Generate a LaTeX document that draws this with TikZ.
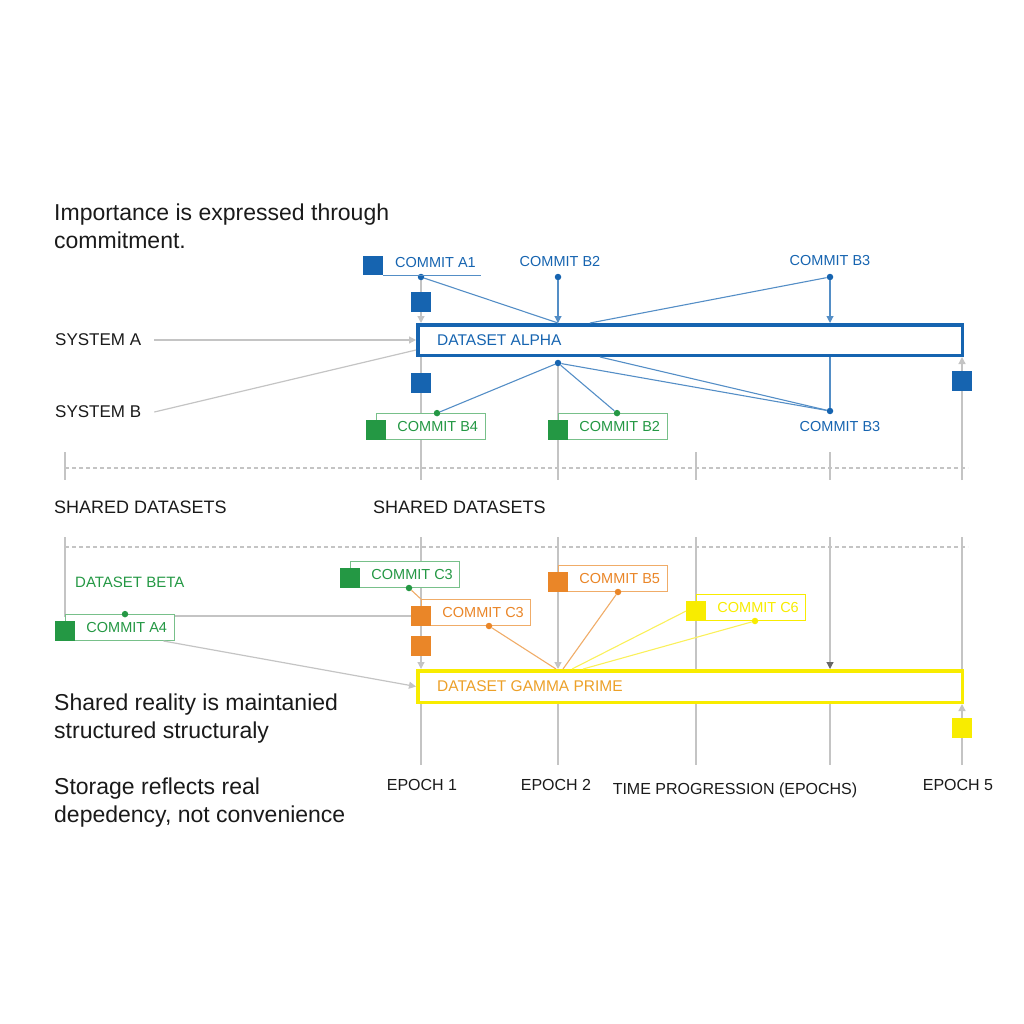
\documentclass[tikz,border=0pt]{standalone}
\usepackage{fontspec}
\setmainfont{Liberation Sans}
\usetikzlibrary{arrows.meta,positioning,calc,backgrounds}
\definecolor{cblue}{RGB}{22,100,176}
\definecolor{lblue}{RGB}{84,142,198}
\definecolor{cgreen}{RGB}{36,152,68}
\definecolor{lgreen}{RGB}{120,192,138}
\definecolor{corange}{RGB}{234,134,40}
\definecolor{lorange}{RGB}{240,172,104}
\definecolor{cyellow}{RGB}{248,236,0}
\definecolor{lyellow}{RGB}{250,240,90}
\definecolor{gtext}{RGB}{236,160,40}
\definecolor{cgray}{RGB}{196,196,196}
\definecolor{ink}{RGB}{26,26,26}
\tikzset{
  sq/.style={rectangle, minimum size=19.5pt, inner sep=0pt},
  dot/.style={circle, minimum size=6.5pt, inner sep=0pt},
  cbox/.style={
    draw,
    line width=0.9pt,
    rectangle,
    fill=white,
    anchor=south west,
    inner xsep=7pt,
    inner ysep=0pt,
    minimum height=26pt,
    font=\fontsize{14.5}{16}\selectfont,
    execute at begin node={\hspace*{14pt}},
  },
  clbl/.style={inner sep=0pt, font=\fontsize{14.5}{16}\selectfont},
  dset/.style={draw, line width=3.5pt, rectangle, minimum width=544.5pt, inner sep=0pt},
  dlbl/.style={inner sep=0pt, anchor=west, font=\fontsize{15.5}{18}\selectfont},
  note/.style={inner sep=0pt, align=left, anchor=north west, text=ink, font=\fontsize{23}{28}\selectfont},
  caps/.style={inner sep=0pt, anchor=west, text=ink, font=\fontsize{17}{20}\selectfont},
  eplbl/.style={inner sep=0pt, text=ink, font=\fontsize{16}{19}\selectfont},
  eline/.style={cgray, line width=1.2pt},
  garr/.style={eline, -{Triangle[length=7pt, width=7pt]}},
  bline/.style={lblue, line width=1.1pt},
  barr/.style={bline, -{Triangle[length=7pt, width=7pt]}},
  oline/.style={lorange, line width=1.1pt},
  yline/.style={lyellow, line width=1.1pt},
  sepline/.style={cgray, line width=1.1pt, dash pattern=on 4pt off 3pt},
}

\begin{document}
\begin{tikzpicture}[x=1pt, y=-1pt]
  \useasboundingbox (0,0) rectangle (1024,1024);

  % epoch columns and levels
  \coordinate (x0) at (65,0);
  \coordinate (x1) at (421,0);
  \coordinate (x2) at (558,0);
  \coordinate (x3) at (696,0);
  \coordinate (x4) at (830,0);
  \coordinate (x5) at (962,0);
  \coordinate (y1) at (0,452);
  \coordinate (y2) at (0,480);
  \coordinate (y3) at (0,537);
  \coordinate (y4) at (0,765);

  \node[dset, draw=cblue, minimum height=30.5pt] (alpha) at (690,340) {};
  \node[dlbl, text=cblue] (alphat) at ([xshift=21pt]alpha.west) {DATASET ALPHA};
  \node[dset, draw=cyellow, minimum height=31.5pt] (gamma) at (690,686.5) {};
  \node[dlbl, text=gtext] (gammat) at ([xshift=21pt]gamma.west) {DATASET GAMMA PRIME};

  \node[note] (imp) at (54,204) {Importance is expressed through\\commitment.};
  \node[caps] (sysa) at (55,340) {SYSTEM A};
  \node[caps] (sysb) at (55,412) {SYSTEM B};
  \node[caps, font=\fontsize{18}{20}\selectfont] (sd1) at (54,507) {SHARED DATASETS};
  \node[caps, font=\fontsize{18}{20}\selectfont] (sd2) at (373,507) {SHARED DATASETS};
  \node[note] (shr) at (54,694) {Shared reality is maintanied\\structured structuraly};
  \node[note] (sto) at (54,778) {Storage reflects real\\depedency, not convenience};

  % upper commits
  \node[sq, fill=cblue] (a1sq) at (373,265.5) {};
  \node[clbl, text=cblue, anchor=west] (a1) at (395,263) {COMMIT A1};
  \node[dot, fill=cblue] (a1d) at (421,277) {};
  \node[clbl, text=cblue] (b2) at (560,262) {COMMIT B2};
  \node[dot, fill=cblue] (b2d) at (558,277) {};
  \node[clbl, text=cblue] (b3) at (830,261) {COMMIT B3};
  \node[dot, fill=cblue] (b3d) at (830,277) {};
  \node[dot, fill=cblue] (ad) at (558,363) {};
  \node[clbl, text=cblue] (b3b) at (840,427) {COMMIT B3};
  \node[dot, fill=cblue] (b3bd) at (830,411) {};
  \node[sq, fill=cblue] (asq1) at (421,302) {};
  \node[sq, fill=cblue] (asq2) at (421,383) {};
  \node[sq, fill=cblue] (asq3) at (962,381) {};

  \node[cbox, draw=lgreen, text=cgreen] (b4) at (376,440) {COMMIT B4};
  \node[sq, fill=cgreen, anchor=south] (b4sq) at (b4.south west) {};
  \node[dot, fill=cgreen] (b4d) at ([xshift=61pt]b4.north west) {};
  \node[cbox, draw=lgreen, text=cgreen] (gb2) at (558,440) {COMMIT B2};
  \node[sq, fill=cgreen, anchor=south] (gb2sq) at (gb2.south west) {};
  \node[dot, fill=cgreen] (gb2d) at ([xshift=59pt]gb2.north west) {};

  % lower commits
  \node[clbl, text=cgreen, anchor=west, font=\fontsize{15}{18}\selectfont] (beta) at (75,582) {DATASET BETA};
  \node[cbox, draw=lgreen, text=cgreen] (a4) at (65,641) {COMMIT A4};
  \node[sq, fill=cgreen, anchor=south] (a4sq) at (a4.south west) {};
  \node[dot, fill=cgreen] (a4d) at ([xshift=60pt]a4.north west) {};

  \node[cbox, draw=lgreen, text=cgreen] (gc3) at (350,588) {COMMIT C3};
  \node[sq, fill=cgreen, anchor=south] (gc3sq) at (gc3.south west) {};
  \node[dot, fill=cgreen] (gc3d) at ([xshift=59pt]gc3.south west) {};

  \node[cbox, draw=lorange, text=corange] (oc3) at (421,626) {COMMIT C3};
  \node[sq, fill=corange, anchor=south] (oc3sq) at (oc3.south west) {};
  \node[dot, fill=corange] (oc3d) at ([xshift=68pt]oc3.south west) {};
  \node[sq, fill=corange] (osq) at (421,646) {};

  \node[cbox, draw=lorange, text=corange] (b5) at (558,592) {COMMIT B5};
  \node[sq, fill=corange, anchor=south] (b5sq) at (b5.south west) {};
  \node[dot, fill=corange] (b5d) at ([xshift=60pt]b5.south west) {};

  \node[cbox, draw=cyellow, text=cyellow] (c6) at (696,621) {COMMIT C6};
  \node[sq, fill=cyellow, anchor=south] (c6sq) at (c6.south west) {};
  \node[dot, fill=cyellow] (c6d) at ([xshift=59pt]c6.south west) {};

  \node[sq, fill=cyellow] (gsq) at (962,728) {};

  \node[eplbl] (ep1) at (422,785) {EPOCH 1};
  \node[eplbl] (ep2) at (556,785) {EPOCH 2};
  \node[eplbl] (tp) at (735,790) {TIME PROGRESSION (EPOCHS)};
  \node[eplbl] (ep5) at (958,785) {EPOCH 5};

  % guides behind everything
  \begin{scope}[on background layer]
    \draw[sepline] (65,468) -- (968,468);
    \draw[sepline] (65,547) -- (968,547);
    \foreach \col in {x0,x3,x4} \draw[eline] (\col |- y1) -- (\col |- y2);
    \draw[garr] (a1d) -- (alpha.north -| x1);
    \draw[eline] (alpha.south -| x1) -- (x1 |- y2);
    \draw[eline] (ad) -- (x2 |- y2);
    \draw[garr] (x5 |- y2) -- (alpha.south -| x5);
    \draw[eline] (x0 |- y3) -- (x0 |- oc3sq.west) -- (oc3sq.west);
    \draw[garr] (x1 |- y3) -- (gamma.north -| x1);
    \draw[garr] (x2 |- y3) -- (gamma.north -| x2);
    \draw[eline] (x3 |- y3) -- (gamma.north -| x3);
    \draw[eline, -{Triangle[length=7pt, width=7pt, black!60]}] (x4 |- y3) -- (gamma.north -| x4);
    \draw[eline] (x5 |- y3) -- (gamma.north -| x5);
    \foreach \col in {x1,x2,x3,x4} \draw[eline] (gamma.south -| \col) -- (\col |- y4);
    \draw[garr] (x5 |- y4) -- (gamma.south -| x5);
  \end{scope}

  \draw[bline] (a1sq.south east) -- ($(a1sq.south east -| a1.east)+(5,0)$);
  \draw[bline] (a1d) -- (alpha.north -| x2);
  \draw[barr] (b2d) -- (alpha.north -| b2d);
  \draw[barr] (b3d) -- (alpha.north -| b3d);
  \draw[bline] (b3d) -- ($(alpha.north -| x2)+(32,0)$);
  \draw[bline] (ad) -- (b4d);
  \draw[bline] (ad) -- (gb2d);
  \draw[bline] (ad) -- (b3bd);
  \draw[bline] ($(alpha.south -| x2)+(42,0)$) -- (b3bd);
  \draw[bline] (alpha.south -| x4) -- (b3bd);
  \draw[garr] ([xshift=13pt]sysa.east) -- (alpha.west);
  \draw[eline] ([xshift=13pt]sysb.east) -- ($(alpha.west)+(0,10)$);

  \draw[oline] (gc3d) -- (oc3.north west);
  \draw[oline] (oc3d) -- ($(gamma.north -| x2)+(-2,0)$);
  \draw[oline] (b5d) -- ($(gamma.north -| x2)+(5,0)$);
  \draw[yline] (c6sq.west) -- ($(gamma.north -| x2)+(14,0)$);
  \draw[yline] (c6d) -- ($(gamma.north -| x2)+(25,0)$);
  \draw[garr] ([xshift=-11pt]a4.south east) -- (gamma.west);
\end{tikzpicture}
\end{document}
